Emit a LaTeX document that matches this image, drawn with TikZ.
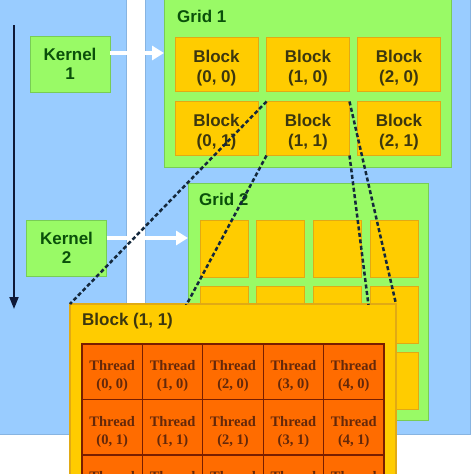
\documentclass[tikz,border=0pt]{standalone}
\usepackage{fontspec}
\setmainfont{Liberation Serif}
\setsansfont{Liberation Sans}
\usetikzlibrary{arrows.meta}
\definecolor{bluebg}{RGB}{153,204,255}
\definecolor{blueedge}{RGB}{135,180,225}
\definecolor{greenbg}{RGB}{153,250,102}
\definecolor{greenedge}{RGB}{120,205,85}
\definecolor{yel}{RGB}{255,204,0}
\definecolor{yeledge}{RGB}{225,170,20}
\definecolor{orng}{RGB}{255,108,0}
\definecolor{orngedge}{RGB}{120,30,0}
\definecolor{txtgreen}{RGB}{10,80,10}
\definecolor{txtblock}{RGB}{60,55,15}
\definecolor{txtthread}{RGB}{100,40,10}
\definecolor{dashcol}{RGB}{20,40,60}
\definecolor{timecol}{RGB}{15,25,55}
\begin{document}
\begin{tikzpicture}[x=1pt,y=-1pt,
  bluepanel/.style={draw=blueedge,line width=1pt,fill=bluebg,inner sep=0,outer sep=0},
  gridbox/.style={draw=greenedge,line width=1pt,fill=greenbg,inner sep=0,outer sep=0},
  kernelbox/.style={draw=greenedge,line width=1pt,fill=greenbg,inner sep=0,outer sep=0,
    minimum width=80,minimum height=56,align=center,text=txtgreen,
    font=\sffamily\bfseries\fontsize{17}{19}\selectfont},
  gridlabel/.style={anchor=west,inner sep=0,text=txtgreen,font=\sffamily\bfseries\fontsize{17}{19}\selectfont},
  blockbox/.style={draw=yeledge,line width=1pt,fill=yel,inner sep=0,outer sep=0,
    minimum width=83,minimum height=54},
  blocktext/.style={inner sep=0,align=center,text=txtblock,
    font=\sffamily\bfseries\fontsize{17}{20}\selectfont},
  smallblock/.style={draw=yeledge,line width=1pt,fill=yel,inner sep=0,outer sep=0,
    minimum width=48,minimum height=57},
  panelbox/.style={draw=yeledge,line width=1.5pt,fill=yel,inner sep=0,outer sep=0,
    minimum width=326,minimum height=218},
  paneltitle/.style={anchor=west,inner sep=0,text=txtblock,font=\sffamily\bfseries\fontsize{17}{19}\selectfont},
  threadcell/.style={draw=orngedge,line width=1.2pt,fill=orng,inner sep=0,outer sep=0,
    minimum width=60.4,minimum height=55.5},
  threadtext/.style={inner sep=0,align=center,text=txtthread,
    font=\rmfamily\bfseries\fontsize{14.5}{18}\selectfont},
  whitearrow/.style={draw=white,line width=4pt,-{Triangle[length=12pt,width=14pt]}},
  timearrow/.style={draw=timecol,line width=2pt,-{Triangle[length=12pt,width=9pt]}},
  perspline/.style={draw=dashcol,line width=2.5pt,dash pattern=on 4pt off 2.5pt}
]
\clip (0,0) rectangle (474,474);
\fill[white] (0,0) rectangle (474,474);
% blue backgrounds
\node[bluepanel,minimum width=136,minimum height=444] (leftbg) at (58,212) {};
\node[bluepanel,minimum width=325,minimum height=444] (rightbg) at (307.5,212) {};
% time arrow
\coordinate (tstart) at (14,25);
\coordinate (tend) at (14,309);
\draw[timearrow] (tstart) -- (tend);
% Grid 1
\node[gridbox,minimum width=287,minimum height=172] (g1) at (307.5,81) {};
\node[gridlabel] (g1lab) at (177,16) {Grid 1};
\foreach \c/\x in {0/216.5,1/308,2/399} {
  \foreach \r/\y in {0/64.5,1/128.5} {
    \node[blockbox] (b\c\r) at (\x,\y) {};
    \node[blocktext] (bt\c\r) at ([yshift=-3.5pt]b\c\r.center) {Block\\(\c, \r)};
  }
}
% Kernels
\node[kernelbox] (k1) at (70,64) {Kernel\\1};
\node[kernelbox] (k2) at (66.5,248) {Kernel\\2};
% Grid 2
\node[gridbox,minimum width=240,minimum height=237] (g2) at (308,301.5) {};
\node[gridlabel] (g2lab) at (199,199) {Grid 2};
\foreach \c in {0,1,2,3} {
  \foreach \r in {0,1,2} {
    \node[smallblock] (s\c\r) at ({224+56.7*\c},{248.5+66*\r}) {};
  }
}
% kernel arrows
\draw[whitearrow] ([yshift=11pt]k1.east) -- ([yshift=11pt]k1.east -| g1.west);
\draw[whitearrow] ([yshift=10pt]k2.east) -- ([yshift=10pt]k2.east -| g2.west);
% Block (1,1) panel
\node[panelbox] (panel) at (233,413) {};
% perspective lines
\draw[perspline] (b11.north west) -- (panel.north west);
\draw[perspline] (b11.north east) -- (panel.north east);
\begin{scope}
\clip (0,0) rectangle (474,304);
\draw[perspline] (b11.south west) -- (panel.south west);
\draw[perspline] (b11.south east) -- (panel.south east);
\end{scope}
\node[paneltitle] (ptitle) at (82,321) {Block (1, 1)};
\foreach \c in {0,...,4} {
  \foreach \r in {0,1,2} {
    \node[threadcell] (t\c\r) at ({82+60.4*(\c+0.5)},{344+55.5*(\r+0.5)}) {};
    \node[threadtext] (tt\c\r) at ([yshift=-4.5pt]t\c\r.center) {Thread\\(\c, \r)};
  }
}
\end{tikzpicture}
\end{document}
